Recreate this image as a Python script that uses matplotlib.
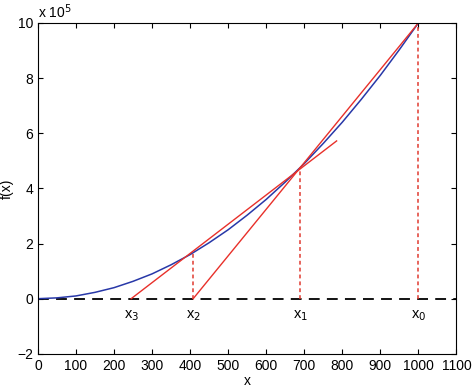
import matplotlib.pyplot as plt

plt.rcParams['font.family'] = ['Liberation Sans', 'DejaVu Sans']
plt.rcParams['font.size'] = 10

# curve f(x), values (in units of 1e5)
xs = [0, 50, 100, 150, 200, 250, 300, 350, 400, 450, 500, 550, 600, 650, 700, 750, 800, 850, 900, 950, 1000]
fs = [0, 0.03, 0.1, 0.23, 0.4, 0.63, 0.9, 1.23, 1.6, 2.03, 2.5, 3.03, 3.6, 4.23, 4.9, 5.63, 6.4, 7.23, 8.1, 9.03, 10]

# iterates and their function values
x_it = [1000, 690, 408, 245]
f_it = [10, 4.76, 1.66, 0]
labels = ['x$_0$', 'x$_1$', 'x$_2$', 'x$_3$']

# secant segments (x start, x end), (y start, y end)
sec1_x, sec1_y = [408, 1000], [0, 10]
sec2_x, sec2_y = [245, 785], [0, 5.72]

fig = plt.figure(figsize=(4.74, 3.88), dpi=100)
ax = fig.add_axes([0.08, 0.088, 0.883, 0.853])

ax.plot([0, 1100], [0, 0], color='black', ls=(0, (6, 4)), lw=1.3)
ax.plot(xs, fs, color='#2838a8', lw=1.1)
ax.plot(sec1_x, sec1_y, color='#e8302a', lw=1)
ax.plot(sec2_x, sec2_y, color='#e8302a', lw=1)
for xv, fv in zip(x_it[:3], f_it[:3]):
    ax.plot([xv, xv], [0, fv], color='#e03a30', ls=(0, (2.5, 2)), lw=1.1)
for xv, lab in zip(x_it, labels):
    ax.text(xv, -0.35, lab, ha='center', va='top', fontsize=10.5)

ax.set_xlim(0, 1100)
ax.set_ylim(-2, 10)
ax.set_xticks(range(0, 1101, 100))
ax.set_yticks(range(-2, 11, 2))
ax.tick_params(direction='in', length=3.5, top=True, right=True, labelsize=10)
ax.set_xlabel('x', labelpad=1)
ax.set_ylabel('f(x)', labelpad=2)
ax.text(0.0, 1.005, 'x 10$^5$', transform=ax.transAxes, ha='left', va='bottom')

fig.savefig('out.png', dpi=100)
